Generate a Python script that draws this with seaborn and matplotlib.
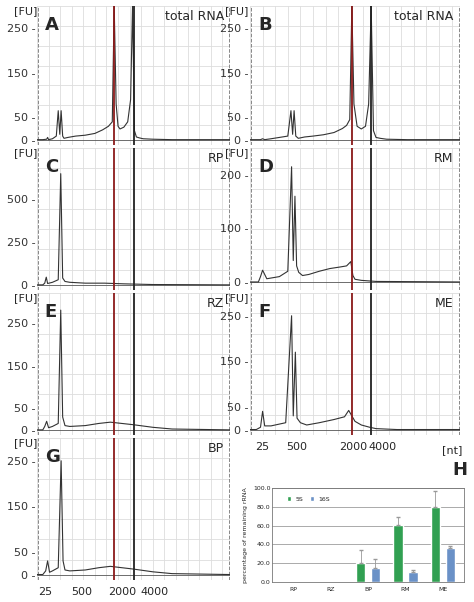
import numpy as np
import pandas as pd
import seaborn as sns
import matplotlib.pyplot as plt

# electropherogram traces, x in run units 0..100, y in [FU]
a_x = [0, 3, 5, 5.5, 6, 8, 10, 11, 11.8, 12.5, 13.3, 14, 16, 20, 25, 30, 34, 37, 39, 40, 41, 42, 43, 45, 47, 48.5, 49.5, 50.5, 51.5, 53, 55, 60, 70, 80, 100]
a_y = [0, 0, 1, 5, 0, 2, 8, 65, 12, 65, 8, 3, 5, 8, 10, 14, 22, 30, 40, 300, 80, 30, 24, 28, 40, 90, 300, 20, 6, 4, 2, 1, 0, 0, 0]
b_x = [0, 5, 6, 7, 10, 18, 19.5, 20.3, 21, 21.8, 23, 26, 30, 35, 40, 44, 46, 47.5, 48.5, 49.5, 51, 53, 55, 56.5, 57.7, 58.8, 60, 62, 65, 75, 100]
b_y = [0, 0, 2, 0, 2, 8, 65, 12, 65, 8, 3, 6, 8, 11, 16, 25, 32, 45, 300, 80, 30, 24, 30, 80, 300, 20, 5, 3, 1, 0, 0]
c_x = [0, 3, 4, 4.8, 5.5, 8, 11, 12.3, 13.3, 14.5, 17, 25, 35, 45, 60, 100]
c_y = [0, 0, 10, 45, 8, 15, 30, 650, 40, 20, 15, 10, 10, 6, 2, 0]
d_x = [0, 4, 5, 6, 8, 14, 18, 19.8, 20.6, 21.4, 22.2, 23.2, 25, 28, 33, 38, 43, 46, 48, 49, 50, 53, 60, 100]
d_y = [0, 0, 10, 22, 6, 10, 20, 215, 40, 160, 30, 18, 12, 14, 20, 25, 28, 30, 38, 12, 5, 3, 1, 0]
e_x = [0, 3, 4, 5, 6, 8, 11, 12.3, 13.3, 14.5, 17, 25, 32, 38, 44, 50, 60, 70, 100]
e_y = [0, 0, 8, 20, 5, 8, 15, 280, 30, 10, 8, 10, 15, 18, 15, 12, 6, 2, 0]
f_x = [0, 3, 5, 6, 7, 10, 17, 19.8, 20.6, 21.6, 22.4, 24, 27, 33, 40, 45, 47, 48.5, 50, 53, 57, 60, 70, 100]
f_y = [0, 0, 5, 40, 8, 8, 15, 250, 30, 170, 25, 15, 10, 15, 22, 28, 42, 30, 18, 10, 5, 2, 0, 0]
g_x = [0, 3, 4.5, 5.5, 6.5, 8, 11, 12.5, 13.5, 14.5, 17, 25, 32, 38, 44, 50, 60, 70, 100]
g_y = [0, 0, 8, 30, 5, 8, 15, 250, 30, 10, 8, 10, 15, 18, 15, 12, 6, 2, 0]

left_ticks = [4, 23, 44, 61]
right_ticks = [6, 22, 49, 63]
nt_labels = ["25", "500", "2000", "4000"]

# panel H: percentage of remaining rRNA
groups = ["RP", "RZ", "BP", "RM", "ME"]
val_5s = [0, 0, 20, 61, 80]
val_16s = [0, 0, 15, 11, 36]
err_5s = [0, 0, 14, 8, 17]
err_16s = [0, 0, 10, 2, 2]

sns.set_style("white")
plt.rcParams['font.family'] = ['DejaVu Sans']

fig = plt.figure(figsize=(4.74, 6.02), dpi=100)
W, H = 474, 602

def px_axes(x0, y0, x1, y1):
    return fig.add_axes([x0 / W, 1 - y1 / H, (x1 - x0) / W, (y1 - y0) / H])

def trace_panel(ax, xs, ys, ylim, yticks, letter, name, lines, bottom=False, ticks=None):
    ax.set_xlim(0, 100)
    ax.set_ylim(*ylim)
    for gx in range(0, 100, 6):
        ax.axvline(gx, color="#dddddd", lw=0.6, zorder=0)
    for gy in np.linspace(ylim[0], ylim[1], 8):
        ax.axhline(gy, color="#dddddd", lw=0.6, zorder=0)
    ax.axvline(0.5, color="#888888", lw=0.7, ls="--")
    ax.axvline(99.5, color="#888888", lw=0.7, ls="--")
    ax.axhline(0, color="#555555", lw=0.6)
    sns.lineplot(x=xs, y=ys, ax=ax, color="#333333", lw=0.8, sort=False)
    ax.axvline(lines[0], color="#8b1a1a", lw=1.3)
    ax.axvline(lines[1], color="#222222", lw=1.3)
    ax.set_yticks(yticks)
    ax.set_yticklabels([f"{t} -" for t in yticks], fontsize=8, color="#333333")
    ax.tick_params(axis="y", length=0, pad=1)
    for s in ax.spines.values():
        s.set_visible(False)
    ax.text(0.04, 0.93, letter, transform=ax.transAxes, fontsize=13, fontweight="bold", va="top")
    ax.text(0.97, 0.97, name, transform=ax.transAxes, fontsize=9, ha="right", va="top")
    ax.text(-0.12, 1.0, "[FU]", transform=ax.transAxes, fontsize=8, va="top", ha="left")
    if bottom:
        ax.set_xticks(ticks)
        ax.set_xticklabels(nt_labels, fontsize=8)
        ax.tick_params(axis="x", length=3, pad=2)
    else:
        ax.set_xticks([])

L = (40, 50)
R = (48.5, 57.7)
ax = px_axes(37, 6, 230, 145)
trace_panel(ax, a_x, a_y, (-12, 300), [0, 50, 150, 250], "A", "total RNA", L)
ax = px_axes(37, 148, 230, 290)
trace_panel(ax, c_x, c_y, (-30, 800), [0, 250, 500], "C", "RP", L)
ax = px_axes(37, 293, 230, 435)
trace_panel(ax, e_x, e_y, (-12, 320), [0, 50, 150, 250], "E", "RZ", L)
ax = px_axes(37, 438, 230, 580)
trace_panel(ax, g_x, g_y, (-12, 300), [0, 50, 150, 250], "G", "BP", L, True, left_ticks)

ax = px_axes(250, 6, 460, 145)
trace_panel(ax, b_x, b_y, (-12, 300), [0, 50, 150, 250], "B", "total RNA", R)
ax = px_axes(250, 148, 460, 290)
trace_panel(ax, d_x, d_y, (-15, 250), [0, 100, 200], "D", "RM", R)
ax = px_axes(250, 293, 460, 435)
trace_panel(ax, f_x, f_y, (-12, 300), [0, 50, 150, 250], "F", "ME", R, True, right_ticks)
fig.text(462 / W, 1 - 450 / H, "[nt]", fontsize=8, ha="right", va="center")

# panel H
axh = px_axes(272, 488, 464, 582)
df = pd.DataFrame({"group": groups * 2, "rRNA": ["5S"] * 5 + ["16S"] * 5,
                   "value": val_5s + val_16s})
sns.barplot(data=df, x="group", y="value", hue="rRNA", ax=axh,
            palette=["#1fb24a", "#5b8fd6"], width=0.8, gap=0.35)
for i, (e5, e16) in enumerate(zip(err_5s, err_16s)):
    if e5:
        axh.errorbar(i - 0.2, val_5s[i], yerr=[[0], [e5]], color="#999999", lw=0.6, capsize=1.5)
        axh.errorbar(i + 0.2, val_16s[i], yerr=[[0], [e16]], color="#999999", lw=0.6, capsize=1.5)
axh.set_ylim(0, 100)
axh.set_yticks([0, 20, 40, 60, 80, 100])
axh.set_yticklabels([f"{v:.1f}" for v in [0, 20, 40, 60, 80, 100]], fontsize=4.5)
axh.tick_params(axis="x", labelsize=4.5, length=0)
axh.tick_params(axis="y", length=0, pad=1)
axh.yaxis.grid(True, color="#888888", lw=0.5)
axh.set_axisbelow(True)
axh.set_xlabel("")
axh.set_ylabel("percentage of remaining rRNA", fontsize=4.5)
for s in axh.spines.values():
    s.set_color("#777777")
    s.set_linewidth(0.6)
axh.legend(loc="upper left", fontsize=4.5, frameon=False, ncol=2, handlelength=0.6,
           columnspacing=1.0, bbox_to_anchor=(0.05, 0.97))
fig.text(452 / W, 1 - 470 / H, "H", fontsize=13, fontweight="bold", va="center")

fig.savefig("out.png", dpi=100)
